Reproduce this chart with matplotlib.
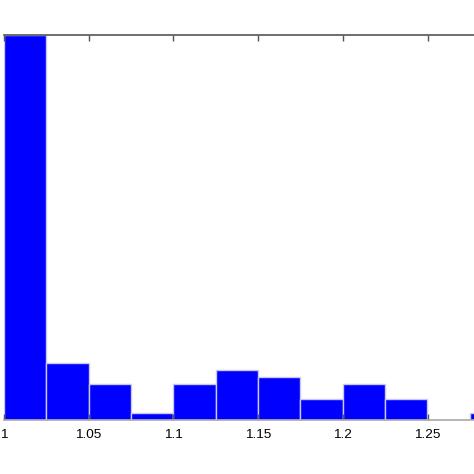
import matplotlib
matplotlib.use("Agg")
import matplotlib.pyplot as plt
import numpy as np

bin_edges = [1.0, 1.025, 1.05, 1.075, 1.1, 1.125, 1.15, 1.175, 1.2, 1.225, 1.25, 1.275, 1.3]
counts = [54, 8, 5, 1, 5, 7, 6, 3, 5, 3, 0, 1]
tick_values = [1.0, 1.05, 1.1, 1.15, 1.2, 1.25]
tick_labels = ["1", "1.05", "1.1", "1.15", "1.2", "1.25"]

W, H = 474, 474
fig = plt.figure(figsize=(W / 100, H / 100), dpi=100)
# axes: left at x=4px, bottom at y=420px, top at y=35px; 0.05 units = 84.7px
px_per_unit = 84.7 / 0.05
x0 = 4
width_px = (bin_edges[-1] - bin_edges[0]) * px_per_unit
ax = fig.add_axes([x0 / W, (H - 420) / H, width_px / W, (420 - 35) / H])

lefts = np.array(bin_edges[:-1])
widths = np.diff(bin_edges)
ax.bar(lefts, counts, width=widths, align="edge", color="#0000ff",
       edgecolor="#c8c8f0", linewidth=1.0)

ax.set_xlim(bin_edges[0], bin_edges[-1])
ax.set_ylim(0, max(counts))
ax.set_xticks(tick_values)
ax.set_xticklabels(tick_labels, fontfamily="Liberation Sans", fontsize=9.7)
ax.set_yticks([])
ax.tick_params(axis="x", direction="in", top=True, bottom=True, length=4,
               width=1.0, color="#555555", pad=6.8)
for s in ["left", "right"]:
    ax.spines[s].set_visible(False)
ax.spines["top"].set_color("#555555")
ax.spines["bottom"].set_color("#aaaaaa")
ax.spines["top"].set_linewidth(1.2)
ax.spines["bottom"].set_linewidth(1.2)

fig.savefig("out.png", dpi=100)
